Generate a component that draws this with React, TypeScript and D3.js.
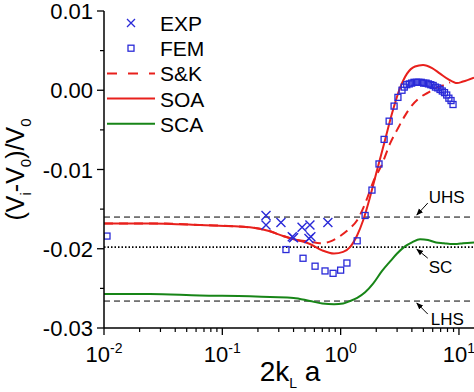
import { useEffect, useRef } from "react";
import * as d3 from "d3";

// [2k_L a, (Vi - V0)/V0]
const expPoints: [number, number][] = [
  [0.234, -0.0158], [0.234, -0.017], [0.313, -0.0167], [0.39, -0.0185], [0.4, -0.0186],
  [0.472, -0.0173], [0.55, -0.017], [0.54, -0.0187], [0.56, -0.0185], [0.78, -0.0167],
];

const femPoints: [number, number][] = [
  [0.0106, -0.0184], [0.345, -0.0201], [0.481, -0.0212], [0.608, -0.0222], [0.738, -0.0228],
  [0.863, -0.0231], [1.0, -0.0227], [1.13, -0.0218], [1.38, -0.019], [1.61, -0.0158],
  [1.84, -0.0126], [2.11, -0.0093], [2.33, -0.0062], [2.57, -0.0039], [2.83, -0.002],
  [3.05, -0.0009], [3.3, 0.0], [3.45, 0.0004], [3.62, 0.0007], [3.8, 0.0008], [3.98, 0.0009],
  [4.17, 0.001], [4.37, 0.001], [4.58, 0.001], [4.8, 0.001], [5.03, 0.0009], [5.27, 0.0009],
  [5.52, 0.0008], [5.78, 0.0007], [6.05, 0.0006], [6.33, 0.0004], [6.62, 0.0003],
  [6.92, 0.0001], [7.23, -0.0001], [7.55, -0.0003], [7.88, -0.0006], [8.22, -0.001],
  [8.57, -0.0013], [8.91, -0.0018],
];

const skCurve: [number, number][] = [
  [0.01, -0.0168], [0.0245, -0.0168], [0.0647, -0.017], [0.171, -0.0173], [0.253, -0.0178],
  [0.326, -0.0184], [0.428, -0.0189], [0.55, -0.0191], [0.67, -0.0193], [0.81, -0.0191],
  [0.99, -0.0184], [1.2, -0.0174], [1.38, -0.0164], [1.61, -0.0143], [1.88, -0.0116],
  [2.24, -0.0093], [2.62, -0.0067], [3.0, -0.005], [3.5, -0.0032], [4.01, -0.0019],
  [4.69, -0.0009], [5.48, -0.0003], [6.4, 0.0003], [7.35, 0.0006], [8.41, 0.001],
];

const soaCurve: [number, number][] = [
  [0.01, -0.0168], [0.0245, -0.0168], [0.0647, -0.017], [0.171, -0.0173], [0.253, -0.0178],
  [0.326, -0.0184], [0.428, -0.0189], [0.55, -0.0194], [0.697, -0.0202], [0.879, -0.0206],
  [1.05, -0.0204], [1.2, -0.0198], [1.38, -0.0183], [1.55, -0.0164], [1.77, -0.0135],
  [2.03, -0.0101], [2.37, -0.0063], [2.72, -0.0029], [3.18, 0.0003], [3.64, 0.0021],
  [4.25, 0.003], [4.97, 0.0032], [5.93, 0.0028], [6.92, 0.0021], [8.09, 0.0014],
  [9.64, 0.0009], [10.8, 0.0011], [13.4, 0.0016],
];

const scaCurve: [number, number][] = [
  [0.01, -0.0257], [0.0245, -0.0257], [0.0647, -0.0259], [0.171, -0.026], [0.253, -0.0261],
  [0.4, -0.0262], [0.55, -0.0266], [0.7, -0.0269], [0.88, -0.027], [1.05, -0.0269],
  [1.2, -0.0266], [1.38, -0.0262], [1.61, -0.0255], [1.88, -0.0244], [2.24, -0.0228],
  [2.62, -0.0216], [3.0, -0.0206], [3.5, -0.0197], [4.01, -0.0192], [4.69, -0.0188],
  [5.48, -0.0189], [6.4, -0.0192], [7.48, -0.0193], [8.41, -0.0194], [9.64, -0.0194],
  [10.8, -0.0193], [13.4, -0.0192],
];

const refLabels = ["UHS", "SC", "LHS"];
const refValues = [-0.016, -0.0198, -0.0266];
const refDash = ["6,4", "1.5,2", "6,4"];

const yTicks = [-0.03, -0.02, -0.01, 0.0, 0.01];
const yMinorTicks = [-0.025, -0.015, -0.005, 0.005];
const xTicks = [0.01, 0.1, 1, 10];
const xTickExp = ["-2", "-1", "0", "1"];

const legendLabels = ["EXP", "FEM", "S&K", "SOA", "SCA"];

const RED = "#e8201c";
const GREEN = "#178517";
const BLUE = "#2a2ad8";
const FONT = "Liberation Sans, Arial, sans-serif";

export default function App() {
  const ref = useRef<SVGSVGElement>(null);

  useEffect(() => {
    if (!ref.current) return;
    const svg = d3.select(ref.current);
    svg.selectAll("*").remove();

    const width = 474;
    const height = 392;
    const margin = { top: 11, right: 0, bottom: 64, left: 104 };

    const x = d3.scaleLog().domain([0.01, 13.4]).range([margin.left, width - margin.right]);
    const y = d3.scaleLinear().domain([-0.03, 0.01]).range([height - margin.bottom, margin.top]);

    svg.attr("width", width).attr("height", height).style("font-family", FONT);

    const defs = svg.append("defs");
    defs
      .append("clipPath")
      .attr("id", "plot-clip")
      .append("rect")
      .attr("x", margin.left)
      .attr("y", margin.top)
      .attr("width", width - margin.left - margin.right)
      .attr("height", height - margin.top - margin.bottom);
    defs
      .append("marker")
      .attr("id", "arrow")
      .attr("viewBox", "0 0 10 10")
      .attr("refX", 9)
      .attr("refY", 5)
      .attr("markerWidth", 7)
      .attr("markerHeight", 7)
      .attr("orient", "auto")
      .append("path")
      .attr("d", "M0,1 L10,5 L0,9 Z")
      .attr("fill", "#000");

    const plot = svg.append("g").attr("clip-path", "url(#plot-clip)");

    // reference lines
    refValues.forEach((v, i) => {
      plot
        .append("line")
        .attr("x1", x(0.01))
        .attr("x2", x(13.4))
        .attr("y1", y(v))
        .attr("y2", y(v))
        .attr("stroke", "#000")
        .attr("stroke-width", i === 1 ? 1.6 : 1)
        .attr("stroke-dasharray", refDash[i]);
    });

    const line = d3
      .line<[number, number]>()
      .x((d) => x(d[0]))
      .y((d) => y(d[1]))
      .curve(d3.curveMonotoneX);

    plot.append("path").datum(scaCurve).attr("fill", "none").attr("stroke", GREEN).attr("stroke-width", 2).attr("d", line);
    plot.append("path").datum(skCurve).attr("fill", "none").attr("stroke", RED).attr("stroke-width", 2).attr("stroke-dasharray", "9,6").attr("d", line);
    plot.append("path").datum(soaCurve).attr("fill", "none").attr("stroke", RED).attr("stroke-width", 2).attr("d", line);

    // FEM squares
    plot
      .selectAll(".fem")
      .data(femPoints)
      .enter()
      .append("rect")
      .attr("x", (d) => x(d[0]) - 3)
      .attr("y", (d) => y(d[1]) - 3)
      .attr("width", 6)
      .attr("height", 6)
      .attr("fill", "none")
      .attr("stroke", BLUE)
      .attr("stroke-width", 1.3);

    // EXP crosses
    const cross = "M-4.5,-4.5 L4.5,4.5 M-4.5,4.5 L4.5,-4.5";
    plot
      .selectAll(".exp")
      .data(expPoints)
      .enter()
      .append("path")
      .attr("transform", (d) => `translate(${x(d[0])},${y(d[1])})`)
      .attr("d", cross)
      .attr("stroke", BLUE)
      .attr("stroke-width", 1.4)
      .attr("fill", "none");

    // axes
    const axisG = svg.append("g");
    const y0 = y(-0.03);
    axisG.append("line").attr("x1", x(0.01)).attr("x2", width).attr("y1", y0).attr("y2", y0).attr("stroke", "#000").attr("stroke-width", 1.5);
    axisG.append("line").attr("x1", x(0.01)).attr("x2", x(0.01)).attr("y1", y(0.01)).attr("y2", y0).attr("stroke", "#000").attr("stroke-width", 1.5);

    yTicks.forEach((t) => {
      axisG.append("line").attr("x1", margin.left - 7).attr("x2", margin.left).attr("y1", y(t)).attr("y2", y(t)).attr("stroke", "#000").attr("stroke-width", 1.3);
      axisG
        .append("text")
        .attr("x", margin.left - 11)
        .attr("y", y(t) + 8)
        .attr("text-anchor", "end")
        .attr("font-size", 22)
        .text(t.toFixed(2).replace("−", "-"));
    });
    yMinorTicks.forEach((t) => {
      axisG.append("line").attr("x1", margin.left - 4).attr("x2", margin.left).attr("y1", y(t)).attr("y2", y(t)).attr("stroke", "#000").attr("stroke-width", 1.2);
    });

    const minor = x.ticks().filter((t) => !xTicks.includes(t));
    minor.forEach((t) => {
      axisG.append("line").attr("x1", x(t)).attr("x2", x(t)).attr("y1", y0).attr("y2", y0 + 4).attr("stroke", "#000").attr("stroke-width", 1.2);
    });
    xTicks.forEach((t, i) => {
      axisG.append("line").attr("x1", x(t)).attr("x2", x(t)).attr("y1", y0).attr("y2", y0 + 7).attr("stroke", "#000").attr("stroke-width", 1.3);
      const label = axisG.append("text").attr("x", x(t)).attr("y", 362).attr("text-anchor", "middle").attr("font-size", 22);
      label.append("tspan").text("10");
      label.append("tspan").attr("dy", -9).attr("font-size", 14).text(xTickExp[i]);
    });

    // axis titles
    const xt = svg.append("text").attr("x", 290).attr("y", 381).attr("text-anchor", "middle").attr("font-size", 28);
    xt.append("tspan").text("2k");
    xt.append("tspan").attr("dy", 7).attr("font-size", 14).text("L");
    xt.append("tspan").attr("dy", -7).text(" a");

    const yt = svg
      .append("text")
      .attr("transform", `translate(24,${(y(0.01) + y0) / 2}) rotate(-90)`)
      .attr("text-anchor", "middle")
      .attr("font-size", 25);
    yt.append("tspan").text("(V");
    yt.append("tspan").attr("dy", 7).attr("font-size", 15).text("i");
    yt.append("tspan").attr("dy", -7).text("-V");
    yt.append("tspan").attr("dy", 7).attr("font-size", 15).text("0");
    yt.append("tspan").attr("dy", -7).text(")/V");
    yt.append("tspan").attr("dy", 7).attr("font-size", 15).text("0");

    // reference labels with arrows
    const arrowAt = 4.4;
    const labelOffsets = [
      { dx: 11, dy: -12, tx: 12, ty: -14 },
      { dx: 11, dy: 9, tx: 12, ty: 26 },
      { dx: 11, dy: 11, tx: 14, ty: 24 },
    ];
    refValues.forEach((v, i) => {
      const px = x(arrowAt);
      const py = y(v) + (i === 0 ? -2 : 2);
      const o = labelOffsets[i];
      svg
        .append("line")
        .attr("x1", px + o.dx)
        .attr("y1", py + o.dy)
        .attr("x2", px)
        .attr("y2", py)
        .attr("stroke", "#000")
        .attr("stroke-width", 1)
        .attr("marker-end", "url(#arrow)");
      svg
        .append("text")
        .attr("x", px + o.tx)
        .attr("y", y(v) + o.ty)
        .attr("font-size", 17)
        .text(refLabels[i]);
    });

    // legend
    const legend = svg.append("g");
    const rowY = (i: number) => 23 + i * 25.2;
    const lx0 = 107;
    const lx1 = 155;
    const cx = 131;
    legend.append("path").attr("transform", `translate(${cx},${rowY(0)})`).attr("d", "M-4,-4 L4,4 M-4,4 L4,-4").attr("stroke", BLUE).attr("stroke-width", 1.3);
    legend.append("rect").attr("x", cx - 3).attr("y", rowY(1) - 3).attr("width", 6).attr("height", 6).attr("fill", "none").attr("stroke", BLUE).attr("stroke-width", 1.3);
    legend.append("line").attr("x1", lx0).attr("x2", lx1).attr("y1", rowY(2)).attr("y2", rowY(2)).attr("stroke", RED).attr("stroke-width", 2).attr("stroke-dasharray", "10,11");
    legend.append("line").attr("x1", lx0).attr("x2", lx1).attr("y1", rowY(3)).attr("y2", rowY(3)).attr("stroke", RED).attr("stroke-width", 2);
    legend.append("line").attr("x1", lx0).attr("x2", lx1).attr("y1", rowY(4)).attr("y2", rowY(4)).attr("stroke", GREEN).attr("stroke-width", 2);
    legendLabels.forEach((l, i) => {
      legend.append("text").attr("x", 160).attr("y", rowY(i) + 8).attr("font-size", 21).text(l);
    });
  }, []);

  return (
    <svg
      ref={ref}
      style={{ position: "absolute", left: 0, top: 0, display: "block", background: "#fff" }}
    />
  );
}
